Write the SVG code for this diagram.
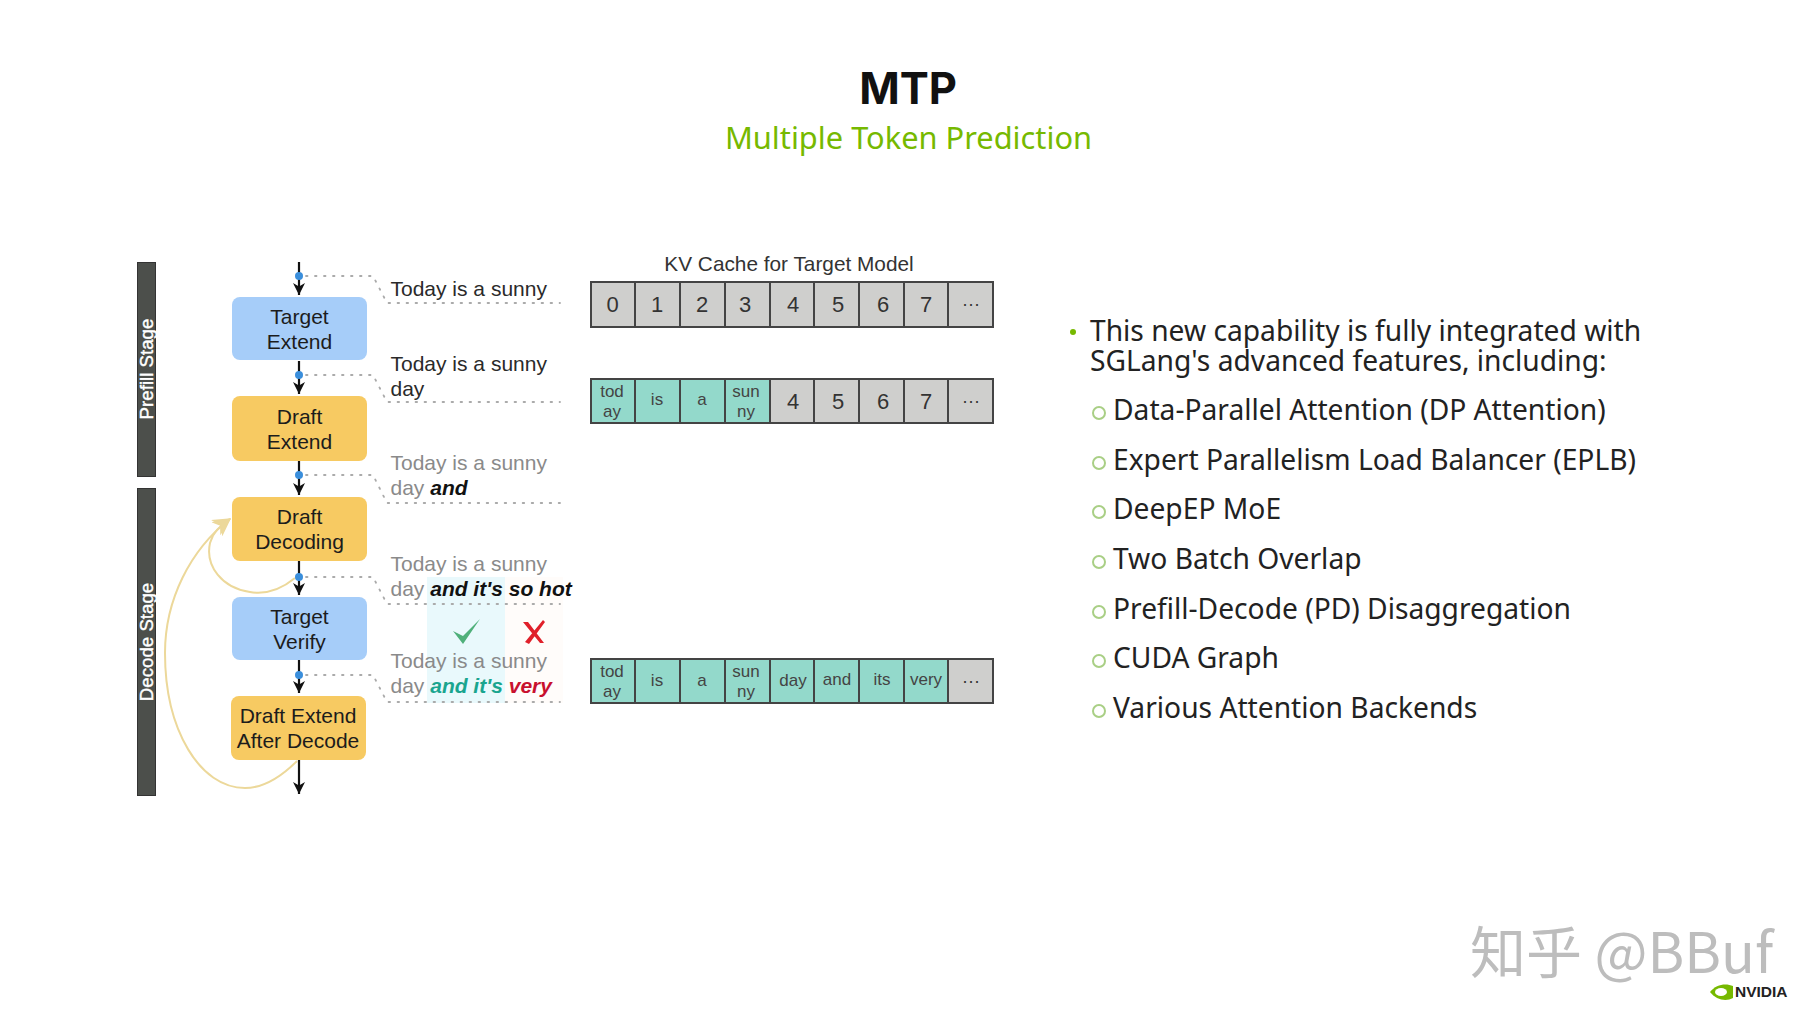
<svg xmlns="http://www.w3.org/2000/svg" width="1816" height="1024" viewBox="0 0 1816 1024">
<style>
text{font-family:"Liberation Sans",Arial,sans-serif}
.n{font-size:21px;fill:#1c1c1c;text-anchor:middle}
.t{font-size:21px;fill:#2a2a2a}
.g{font-size:21px;fill:#8a8a8a}
.bi{font-weight:bold;font-style:italic}
.box{stroke:none}
.blue{fill:#a6cdf9}
.yel{fill:#f7ca62}
.stage{fill:#4c4f4b;stroke:#333;stroke-width:1}
.stl{font-size:18.700px;fill:#fff;stroke:#fff;stroke-width:.4;text-anchor:middle}
.c{stroke:#444;stroke-width:2}
.gr{fill:#cfcfcd}
.te{fill:#93d9cb}
.num{font-size:22px;fill:#333;text-anchor:middle}
.w{font-size:17px;fill:#444;text-anchor:middle}
.r{font-family:"Noto Sans",sans-serif;font-size:28.200px;fill:#222}
.o{fill:none;stroke:#a9cf85;stroke-width:2}
.ar{stroke:#111;stroke-width:2.2;fill:none;marker-end:url(#a)}
.dt{fill:none;stroke:#aaa;stroke-width:1.800;stroke-dasharray:1.500 7.500;stroke-linecap:round}
.dot{fill:#3a8edb}
.lp{fill:none;stroke:#ecd89a;stroke-width:2}
</style>
<defs>
<marker id="a" viewBox="0 0 14 14" refX="13" refY="7" markerWidth="14" markerHeight="14" markerUnits="userSpaceOnUse" orient="auto">
<path d="M13 7 L1 1 L4.500 7 L1 13 Z" fill="#111"/>
</marker>
<marker id="y" viewBox="0 0 14 14" refX="13" refY="7" markerWidth="18" markerHeight="18" markerUnits="userSpaceOnUse" orient="auto">
<path d="M14 7 L0 0 L4 7 L0 14 Z" fill="#ecd89a"/>
</marker>
</defs>
<rect width="1816" height="1024" fill="#fff"/>
<g id="title">
<text x="908" y="104" text-anchor="middle" style="font-family:'Inter',sans-serif;font-weight:700;font-size:43.500px;fill:#111">MTP</text>
<text x="908.500" y="149" text-anchor="middle" style="font-family:'Noto Sans',sans-serif;font-size:30.800px;fill:#76b900">Multiple Token Prediction</text>
</g>
<g id="stage-prefill"><rect class="stage" x="137.500" y="262.500" width="18" height="214"/><text class="stl" transform="translate(153,369) rotate(-90)">Prefill Stage</text></g>
<g id="stage-decode"><rect class="stage" x="137.500" y="488.500" width="18" height="307"/><text class="stl" transform="translate(153,642) rotate(-90)">Decode Stage</text></g>
<g id="highlight"><rect x="427" y="577" width="78" height="126" fill="#e9f9fc"/><rect x="505" y="577" width="58" height="126" fill="#fffcfa"/></g>
<g id="connectors">
<path class="lp" marker-end="url(#y)" d="M295 578 C278 592 262 594 250 592 C222 588 205 566 210 543 C213 532 220 525 230 519"/>
<path class="lp" marker-end="url(#y)" d="M297 761 C280 778 262 788 245 788 C200 788 165 730 165 653 C165 600 190 550 230 519"/>
<path class="ar" d="M299 262V295"/><path class="ar" d="M299 361V394"/><path class="ar" d="M299 461V495"/><path class="ar" d="M299 561V595"/><path class="ar" d="M299 659V693"/><path class="ar" d="M299 760V794"/>
<path class="dt" d="M306 276H373L387 303H560"/><path class="dt" d="M306 375H373L387 402H560"/><path class="dt" d="M306 475H373L387 503H560"/><path class="dt" d="M306 577H373L387 604H560"/><path class="dt" d="M306 675H373L387 702H560"/>
<circle class="dot" cx="299" cy="276" r="4"/><circle class="dot" cx="299" cy="375" r="4"/><circle class="dot" cx="299" cy="475" r="4"/><circle class="dot" cx="299" cy="577" r="4"/><circle class="dot" cx="299" cy="675" r="4"/>
</g>
<g id="n1"><rect class="box blue" x="232" y="297" width="135" height="63" rx="8"/><text class="n" x="299.500" y="324">Target</text><text class="n" x="299.500" y="349">Extend</text></g>
<g id="n2"><rect class="box yel" x="232" y="396" width="135" height="65" rx="8"/><text class="n" x="299.500" y="424">Draft</text><text class="n" x="299.500" y="449">Extend</text></g>
<g id="n3"><rect class="box yel" x="232" y="497" width="135" height="64" rx="8"/><text class="n" x="299.500" y="524">Draft</text><text class="n" x="299.500" y="549">Decoding</text></g>
<g id="n4"><rect class="box blue" x="232" y="597" width="135" height="63" rx="8"/><text class="n" x="299.500" y="624">Target</text><text class="n" x="299.500" y="649">Verify</text></g>
<g id="n5"><rect class="box yel" x="231" y="696" width="135" height="64" rx="8"/><text class="n" x="298" y="723">Draft Extend</text><text class="n" x="298" y="748">After Decode</text></g>
<g id="labels">
<text class="t" x="390.500" y="296">Today is a sunny</text>
<text class="t" x="390.500" y="371">Today is a sunny</text><text class="t" x="390.500" y="396">day</text>
<text class="g" x="390.500" y="470">Today is a sunny</text><text class="g" x="390.500" y="495">day <tspan class="bi" fill="#111">and</tspan></text>
<text class="g" x="390.500" y="571">Today is a sunny</text><text class="g" x="390.500" y="596">day <tspan class="bi" fill="#111">and it's so hot</tspan></text>
<text class="g" x="390.500" y="668">Today is a sunny</text><text class="g" x="390.500" y="693">day <tspan class="bi" fill="#1aa58f">and it's</tspan> <tspan class="bi" fill="#c8102e">very</tspan></text>
</g>
<g id="marks">
<path d="M453 631 L463 644 L480 619 L463 636 Z" fill="#4fb07a"/>
<path d="M523 622 L528 622 L544 643 L540 643 Z M543 620 L545 622 L529 644 L525 642 Z" fill="#e0202a"/>
</g>
<text x="789" y="271" text-anchor="middle" style="font-size:20.800px;fill:#333" id="kv-title">KV Cache for Target Model</text>
<g id="row1">
<rect class="c gr" x="591" y="282" width="44" height="45"/><rect class="c gr" x="635" y="282" width="45" height="45"/><rect class="c gr" x="680" y="282" width="45" height="45"/><rect class="c gr" x="725" y="282" width="45" height="45"/><rect class="c gr" x="770" y="282" width="44" height="45"/><rect class="c gr" x="814" y="282" width="45" height="45"/><rect class="c gr" x="859" y="282" width="45" height="45"/><rect class="c gr" x="904" y="282" width="44" height="45"/><rect class="c gr" x="948" y="282" width="45" height="45"/>
<text class="num" x="612.500" y="312">0</text><text class="num" x="657" y="312">1</text><text class="num" x="702" y="312">2</text><text class="num" x="745" y="312">3</text><text class="num" x="793" y="312">4</text><text class="num" x="838" y="312">5</text><text class="num" x="883" y="312">6</text><text class="num" x="926" y="312">7</text><text class="num" x="971" y="310" style="font-size:18px">···</text>
</g>
<g id="row2">
<rect class="c te" x="591" y="379" width="44" height="44"/><rect class="c te" x="635" y="379" width="45" height="44"/><rect class="c te" x="680" y="379" width="45" height="44"/><rect class="c te" x="725" y="379" width="45" height="44"/><rect class="c gr" x="770" y="379" width="44" height="44"/><rect class="c gr" x="814" y="379" width="45" height="44"/><rect class="c gr" x="859" y="379" width="45" height="44"/><rect class="c gr" x="904" y="379" width="44" height="44"/><rect class="c gr" x="948" y="379" width="45" height="44"/>
<text class="w" x="612" y="397">tod</text><text class="w" x="612" y="417">ay</text><text class="w" x="657" y="405">is</text><text class="w" x="702" y="405">a</text><text class="w" x="746" y="397">sun</text><text class="w" x="746" y="417">ny</text>
<text class="num" x="793" y="409">4</text><text class="num" x="838" y="409">5</text><text class="num" x="883" y="409">6</text><text class="num" x="926" y="409">7</text><text class="num" x="971" y="407" style="font-size:18px">···</text>
</g>
<g id="row3">
<rect class="c te" x="591" y="659" width="44" height="44"/><rect class="c te" x="635" y="659" width="45" height="44"/><rect class="c te" x="680" y="659" width="45" height="44"/><rect class="c te" x="725" y="659" width="45" height="44"/><rect class="c te" x="770" y="659" width="44" height="44"/><rect class="c te" x="814" y="659" width="45" height="44"/><rect class="c te" x="859" y="659" width="45" height="44"/><rect class="c te" x="904" y="659" width="44" height="44"/><rect class="c gr" x="948" y="659" width="45" height="44"/>
<text class="w" x="612" y="677">tod</text><text class="w" x="612" y="697">ay</text><text class="w" x="657" y="686">is</text><text class="w" x="702" y="686">a</text><text class="w" x="746" y="677">sun</text><text class="w" x="746" y="697">ny</text><text class="w" x="793" y="686">day</text><text class="w" x="837" y="685">and</text><text class="w" x="882" y="685">its</text><text class="w" x="926" y="685">very</text><text class="num" x="971" y="687" style="font-size:18px">···</text>
</g>
<g id="bullets">
<circle cx="1073" cy="332" r="3" fill="#76b900"/>
<text class="r" x="1090" y="341">This new capability is fully integrated with</text>
<text class="r" x="1090" y="371">SGLang's advanced features, including:</text>
<circle class="o" cx="1099" cy="413" r="6"/><text class="r" x="1113" y="420">Data-Parallel Attention (DP Attention)</text>
<circle class="o" cx="1099" cy="463" r="6"/><text class="r" x="1113" y="470">Expert Parallelism Load Balancer (EPLB)</text>
<circle class="o" cx="1099" cy="512" r="6"/><text class="r" x="1113" y="519">DeepEP MoE</text>
<circle class="o" cx="1099" cy="562" r="6"/><text class="r" x="1113" y="569">Two Batch Overlap</text>
<circle class="o" cx="1099" cy="612" r="6"/><text class="r" x="1113" y="619">Prefill-Decode (PD) Disaggregation</text>
<circle class="o" cx="1099" cy="661" r="6"/><text class="r" x="1113" y="668">CUDA Graph</text>
<circle class="o" cx="1099" cy="711" r="6"/><text class="r" x="1113" y="718">Various Attention Backends</text>
</g>
<g id="watermark"><text x="1470" y="973" style="font-family:'Noto Sans CJK SC','Noto Sans',sans-serif;font-size:56px;fill:#bdbdbd">知乎 @BBuf</text></g>
<g id="logo"><path d="M1710 992 C1716 984 1726 983 1733 986 L1733 998 C1726 1002 1716 1000 1710 992Z" fill="#76b900"/><ellipse cx="1721" cy="992" rx="6" ry="4" fill="#fff"/><text x="1735" y="997" style="font-weight:bold;font-size:15.500px;fill:#222">NVIDIA</text></g>
</svg>
